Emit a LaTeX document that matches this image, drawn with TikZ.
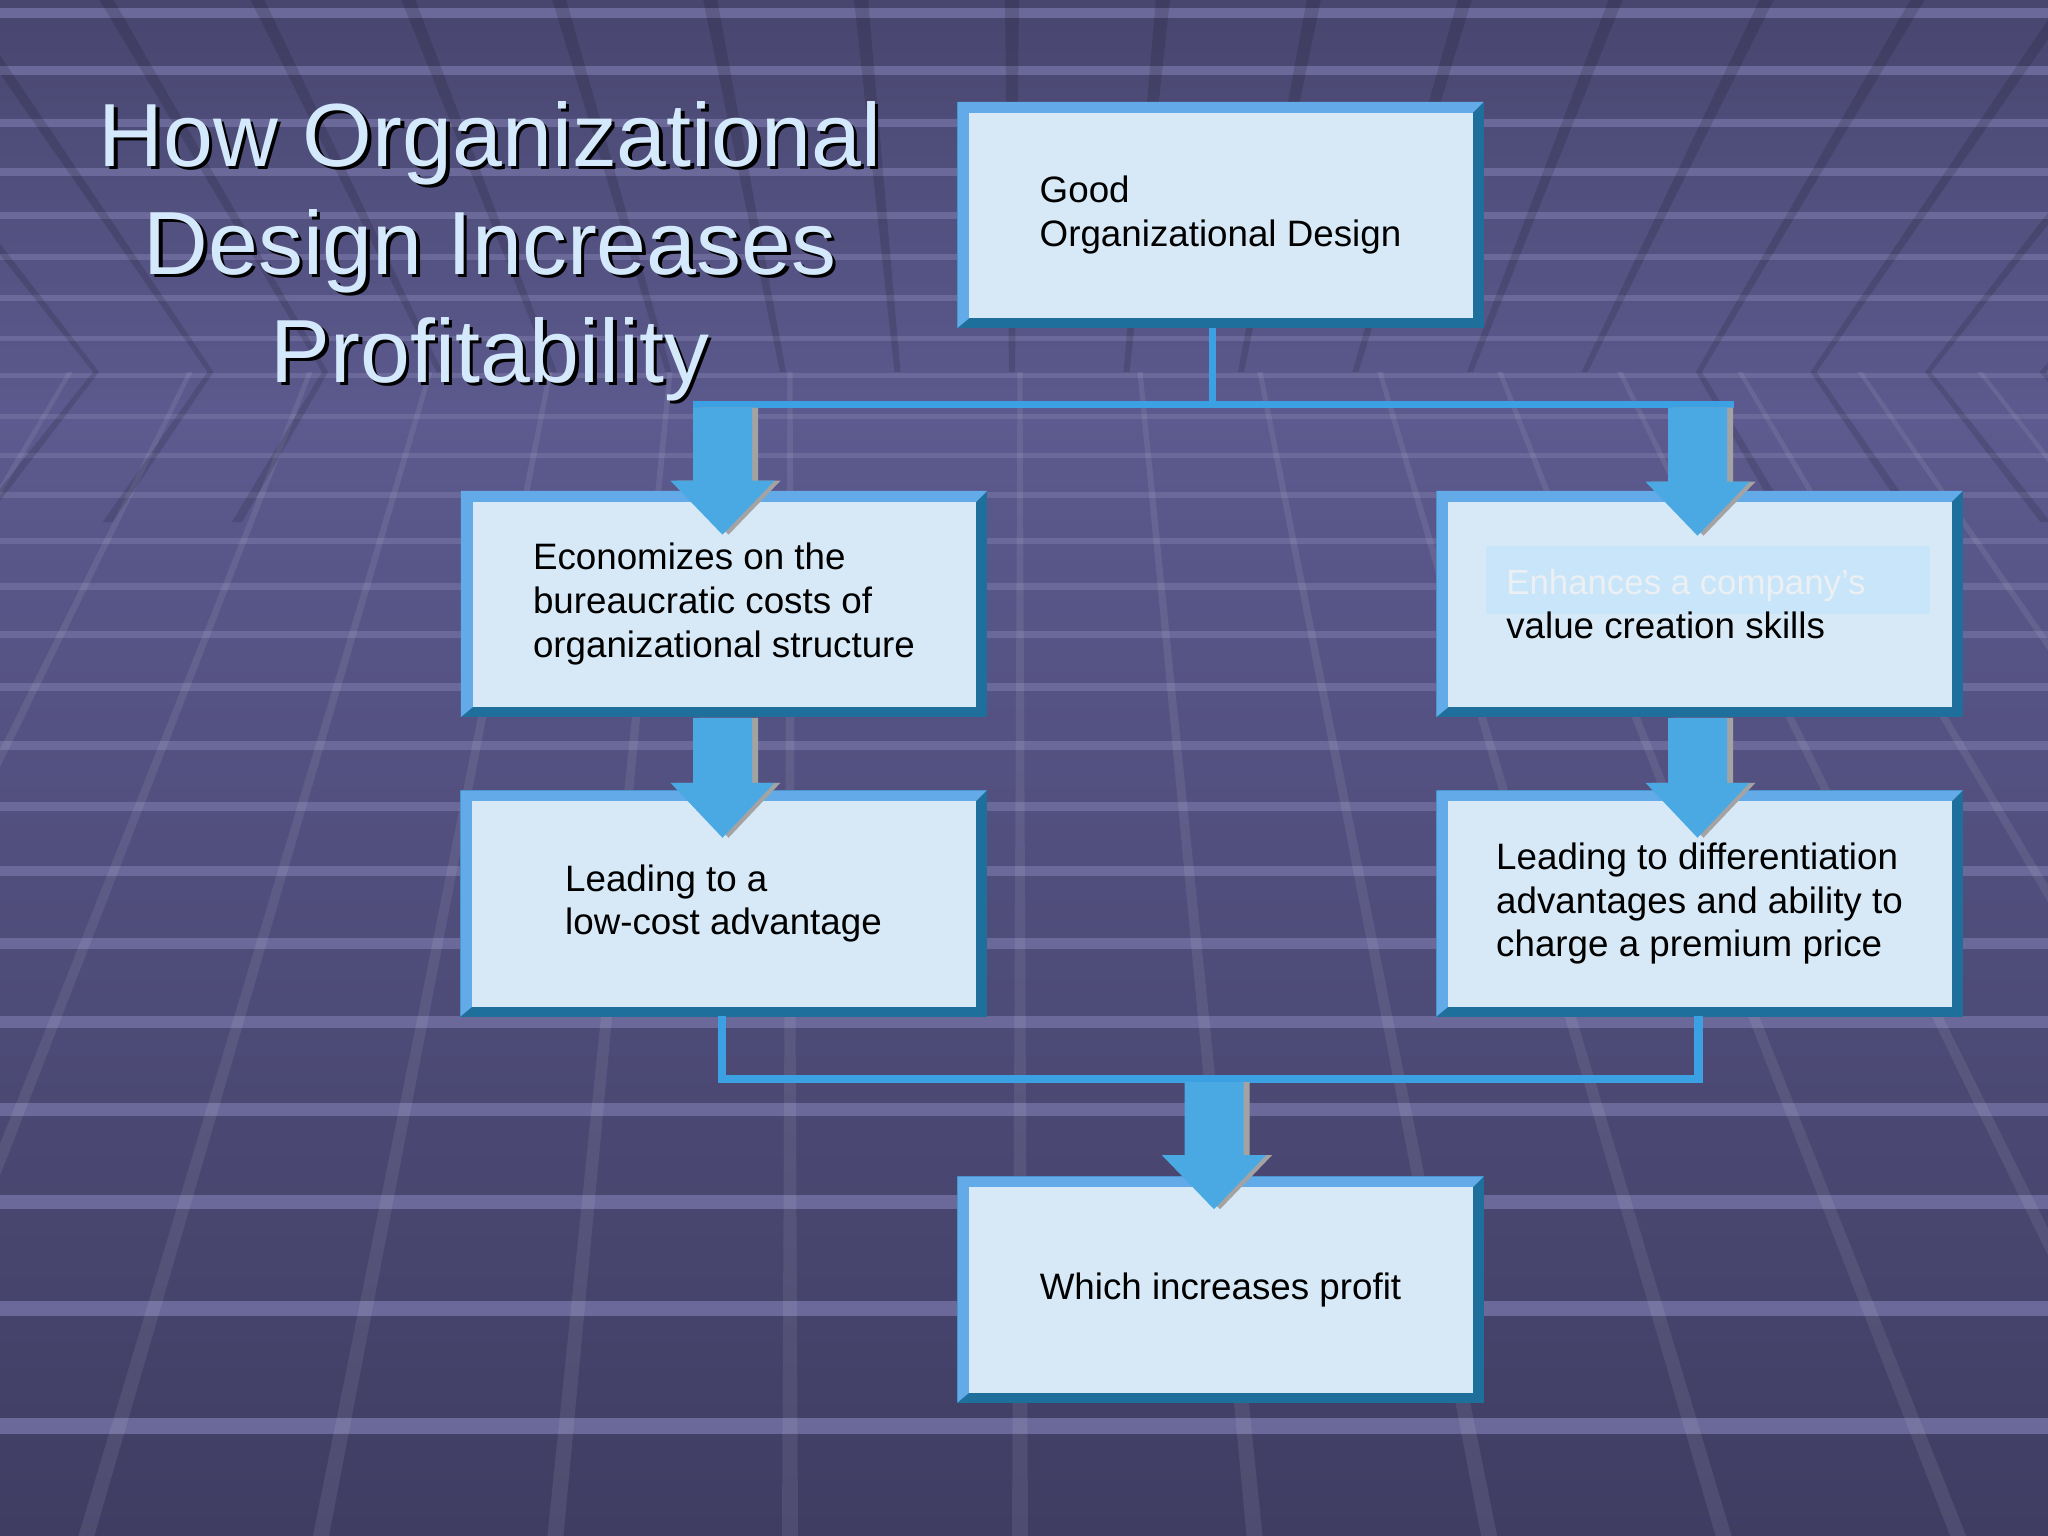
\documentclass[tikz,border=0pt]{standalone}
\usepackage{fontspec}
\setmainfont{Liberation Sans}
\usetikzlibrary{calc}
\definecolor{bgtop}{HTML}{48466F}
\definecolor{bgmid}{HTML}{5C5A8E}
\definecolor{bgbot}{HTML}{403D63}
\definecolor{bandc}{HTML}{6B6999}
\definecolor{bevlight}{HTML}{62AAE8}
\definecolor{bevdark}{HTML}{1F6F9C}
\definecolor{boxfill}{HTML}{D7E9F6}
\definecolor{arrblue}{HTML}{4AA9E2}
\definecolor{arrshadow}{HTML}{A3A3A3}
\definecolor{connc}{HTML}{3CA1E3}
\definecolor{titlefill}{HTML}{D4E9FB}
\definecolor{hlc}{HTML}{C8E5FA}
\definecolor{faint}{HTML}{ECF0F3}
\newcommand\bevelpic{%
  \fill[bevlight] (path picture bounding box.north west) -- (path picture bounding box.north east)
     -- ([xshift=-0.11cm,yshift=-0.11cm]path picture bounding box.north east)
     -- ([xshift=0.12cm,yshift=-0.11cm]path picture bounding box.north west)
     -- ([xshift=0.12cm,yshift=0.10cm]path picture bounding box.south west)
     -- (path picture bounding box.south west) -- cycle;
  \fill[boxfill] ([xshift=0.12cm,yshift=-0.11cm]path picture bounding box.north west)
     rectangle ([xshift=-0.11cm,yshift=0.10cm]path picture bounding box.south east);}
\newcommand\hlpic{%
  \fill[hlc] ([xshift=0.50cm,yshift=-0.55cm]path picture bounding box.north west)
     rectangle ([xshift=4.93cm,yshift=-1.23cm]path picture bounding box.north west);}
\newcommand\blockarrow[3]{%
  \begin{scope}[shift={#1}]
    \fill[arrshadow] (-23.5,0) -- (35.5,0) -- (35.5,#2) -- (58,#2) -- (6,#3) -- (-46,#2) -- (-23.5,#2) -- cycle;
    \fill[arrblue] (-29.5,0) -- (29.5,0) -- (29.5,#2) -- (52,#2) -- (0,#3) -- (-52,#2) -- (-29.5,#2) -- cycle;
  \end{scope}}
\begin{document}
\begin{tikzpicture}[x=0.01cm, y=-0.01cm,
  bevelbox/.style={minimum width=5.26cm, minimum height=2.26cm, inner sep=0pt,
    fill=bevdark, align=left, text=black, font=\fontsize{10.45}{12.5}\selectfont,
    path picture={\bevelpic}},
  conn/.style={draw=connc, line width=0.07cm, line join=miter},
  titletext/.style={align=center, font=\fontsize{25.5}{30.7}\selectfont, inner sep=0pt},
  floorline/.style={fill=white, fill opacity=0.08},
  ceilline/.style={fill=black, fill opacity=0.13}]
\useasboundingbox (0,0) rectangle (2048,1536);
% ---------- background ----------
\begin{scope}
\clip (0,0) rectangle (2048,1536);
\shade[top color=bgtop, bottom color=bgmid] (0,0) rectangle (2048,420);
\shade[top color=bgmid, bottom color=bgbot] (0,420) rectangle (2048,1536);
\foreach \y/\t in {13/10, 70/9, 123/8, 172/8, 215/7, 257/6, 298/6, 338/5, 375/5, 416/5,
  455/5, 495/6, 541/6, 586/7, 634/7, 687/8, 745/9, 806/9, 871/10, 943/11, 1022/12,
  1109/13, 1202/14, 1308/15, 1426/16}
  \fill[bandc] (0,\y-\t/2) rectangle (2048,\y+\t/2);
\foreach \k in {0,...,11}{
  \pgfmathsetmacro\xh{1020+120*\k}
  \pgfmathsetmacro\xb{\xh+0.0984*\k*1164}
  \fill[floorline] (\xh-2.5,372) -- (\xh+2.5,372) -- (\xb+8,1536) -- (\xb-8,1536) -- cycle;
}
\foreach \k in {1,...,9}{
  \pgfmathsetmacro\xh{790-120*\k}
  \pgfmathsetmacro\xb{\xh-0.0984*\k*1164}
  \fill[floorline] (\xh-2.5,372) -- (\xh+2.5,372) -- (\xb+8,1536) -- (\xb-8,1536) -- cycle;
}
\fill[floorline] (787.5,372) -- (792.5,372) -- (798,1536) -- (782,1536) -- cycle;
\foreach \n in {-9,...,9}{
  \pgfmathsetmacro\xh{1012+114.5*\n}
  \pgfmathsetmacro\xt{\xh+114.5*\n*0.00085*372}
  \fill[ceilline] (\xh-3,372) -- (\xh+3,372) -- (\xt+7,0) -- (\xt-7,0) -- cycle;
}
\foreach \n in {-9,-8,-7,-6,6,7,8,9}{
  \pgfmathsetmacro\xh{1012+114.5*\n}
  \pgfmathsetmacro\xr{\xh+114.5*\n*0.00085*150}
  \fill[ceilline] (\xh-3,372) -- (\xh+3,372) -- (\xr+5,522) -- (\xr-5,522) -- cycle;
}
\end{scope}
% ---------- title ----------
\node[titletext, text=black, anchor=base] (titleshadow) at (493.5,385.5)
  {How Organizational\\Design Increases\\Profitability};
\node[titletext, text=titlefill, anchor=base] (title) at (490,382)
  {How Organizational\\Design Increases\\Profitability};
% ---------- boxes ----------
\node[bevelbox] (top) at (1220.5,215) {Good\\Organizational Design};
\node[bevelbox] (L1) at (724,604) {Economizes on the\\bureaucratic costs of\\organizational structure};
\node[bevelbox, path picture={\bevelpic\hlpic}] (R1) at (1699.5,604)
  {{\fontsize{9.9}{12.5}\selectfont\color{faint}Enhances a company's}\hspace*{0.27cm}\\value creation skills};
\node[bevelbox] (L2) at (723.5,903.5) {Leading to a\\low-cost advantage};
\node[bevelbox] (R2) at (1699.5,903.5) {Leading to differentiation\\advantages and ability to\\charge a premium price};
\node[bevelbox] (bot) at (1220.5,1289.5) {Which increases profit};
% ---------- connectors ----------
\coordinate (hub) at ($(top.south)+(-8,78.5)$);
\coordinate (splitL) at ($(L1.north)+(-31,-86)$);
\coordinate (splitR) at ($(R1.north)+(34.5,-86)$);
\draw[conn] ($(top.south)+(-8,-1)$) -- (hub);
\draw[conn] (splitL) -- (splitR);
\draw[conn, line width=0.085cm] ($(L2.south)+(-1.5,-1)$) -- ++(0,62.5) -| ($(R2.south)+(-1,-1)$);
% ---------- arrows ----------
\blockarrow{($(L1.north)+(-1.5,-82.5)$)}{73}{127}
\blockarrow{($(R1.north)+(-2,-82.5)$)}{74}{128}
\blockarrow{($(L1.south)+(-1.5,0)$)}{65}{120}
\blockarrow{($(R1.south)+(-2,0)$)}{65}{120}
\blockarrow{($(bot.north)+(-6.5,-93.5)$)}{73}{127}
\end{tikzpicture}
\end{document}
